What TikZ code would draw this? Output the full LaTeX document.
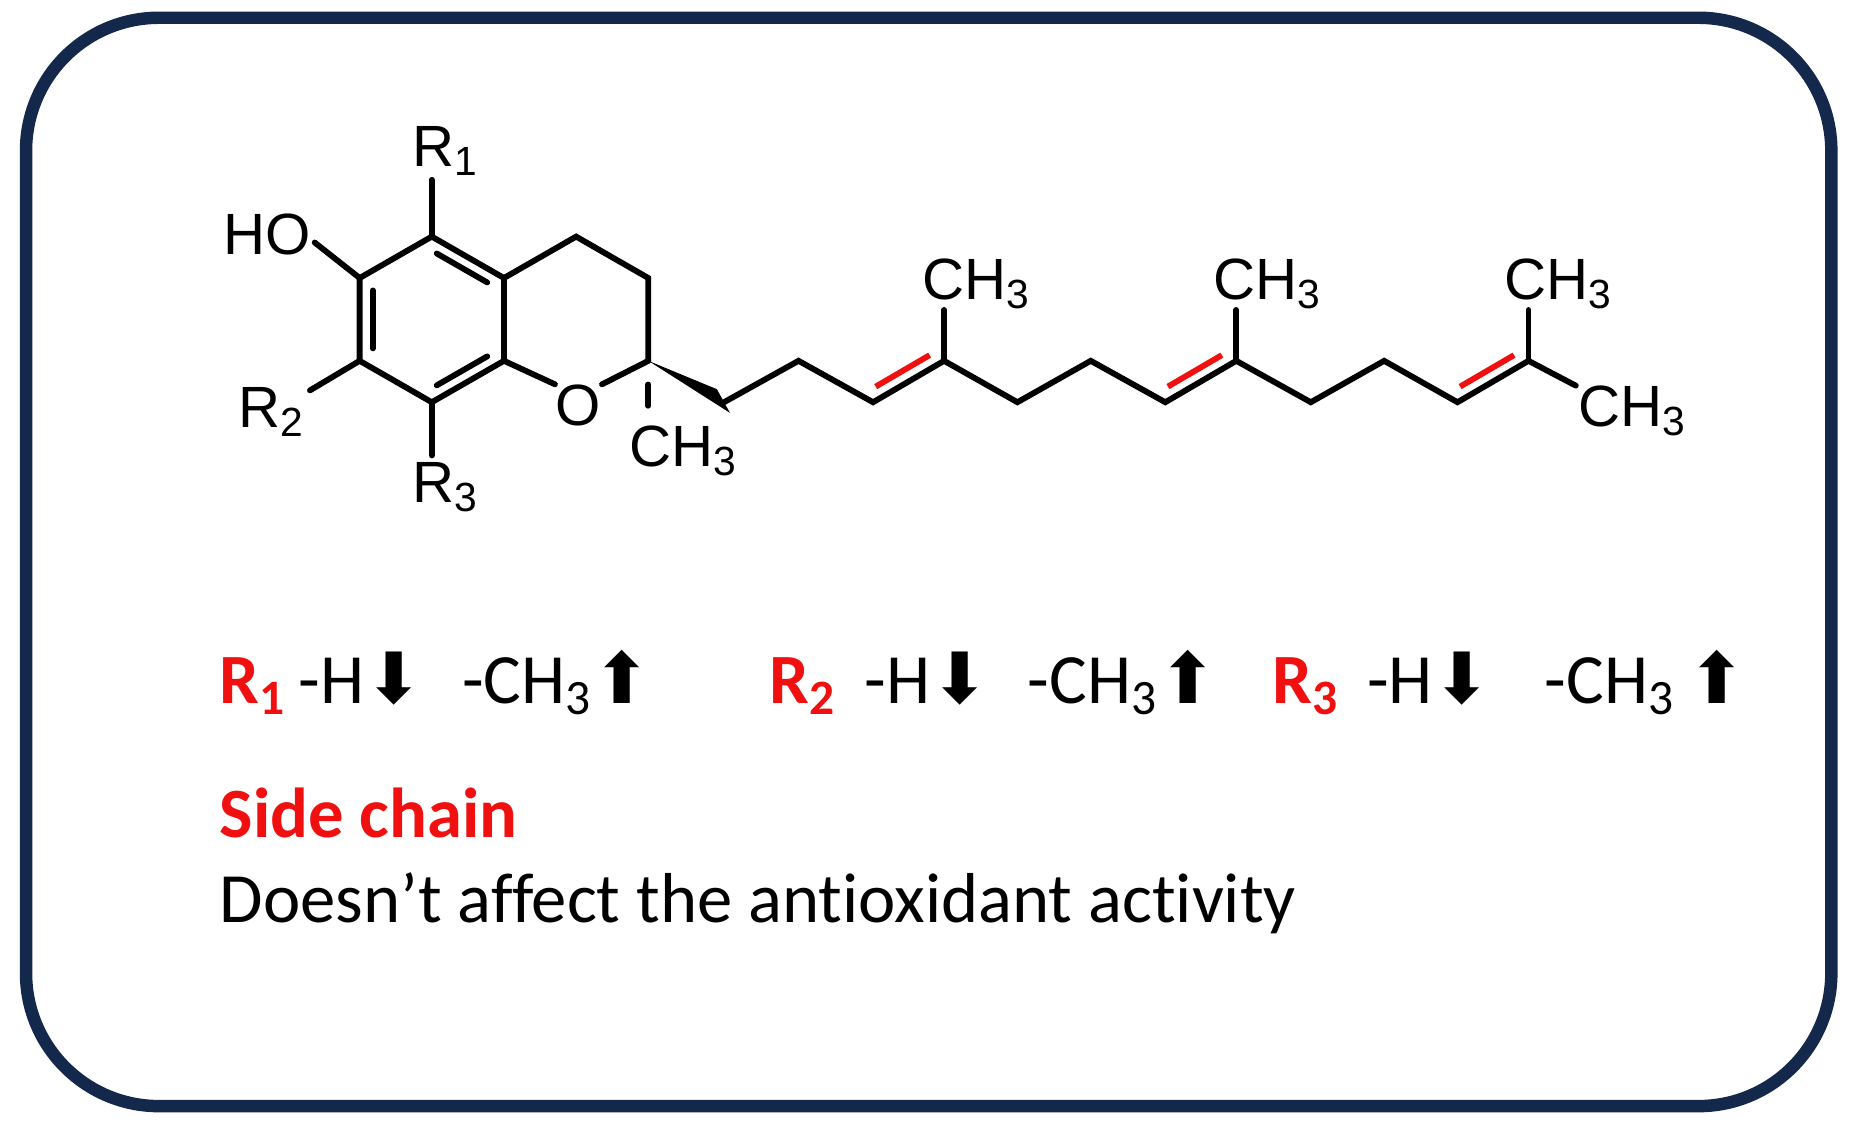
\documentclass[tikz,border=0pt]{standalone}
\usepackage{fontspec}
\usetikzlibrary{calc}
\setmainfont{Liberation Sans}
\newfontfamily\calfont[Ligatures=NoCommon]{Carlito}
\newfontfamily\djfont{DejaVu Sans}
\definecolor{navy}{HTML}{14284B}
\definecolor{rred}{HTML}{F01010}
\begin{document}
\begin{tikzpicture}[x=0.1mm,y=-0.1mm,
  bond/.style={line width=1.4pt,line cap=round},
  dbl/.style={line width=1.4pt,rred},
  lab/.style={font=\fontsize{14}{14}\selectfont,inner sep=0pt},
  txt/.style={font=\calfont\fontsize{17}{17}\selectfont,inner sep=0pt,anchor=base west},
  rtxt/.style={txt,text=rred,font=\calfont\bfseries\fontsize{17}{17}\selectfont}]
\useasboundingbox (0,0) rectangle (1568,952);
\draw[navy,line width=3pt,rounded corners=32pt] (22,15) rectangle (1548,935);
% ring coordinates
\coordinate (c5) at (365,200); \coordinate (c6) at (304,235); \coordinate (c7) at (304,305);
\coordinate (c8) at (365,340); \coordinate (c8a) at (426,305); \coordinate (c4a) at (426,235);
\coordinate (c4) at (487,200); \coordinate (c3) at (548,235); \coordinate (c2) at (548,305);
\node[lab] (o) at (489,343) {O};
\draw[bond] (c5)--(c6)--(c7)--(c8)--(c8a)--(c4a)--cycle;
\draw[bond] (c4a)--(c4)--(c3)--(c2);
\draw[bond] (c8a)--(o.north west); \draw[bond] (o.north east)--(c2);
\draw[bond] ($(c5)!0.15!(c4a)+(-5,9)$)--($(c5)!0.85!(c4a)+(-5,9)$);
\draw[bond] ($(c6)!0.15!(c7)+(11,0)$)--($(c6)!0.85!(c7)+(11,0)$);
\draw[bond] ($(c8)!0.15!(c8a)+(-5,-9)$)--($(c8)!0.85!(c8a)+(-5,-9)$);
% substituents
\coordinate (r1e) at (365,152); \node[lab] (r1) at (377,128) {R\textsubscript{1}};
\draw[bond] (c5)--(r1e);
\coordinate (hoe) at (266,205); \node[lab] (ho) at (226,198) {HO};
\draw[bond] (c6)--(hoe);
\coordinate (r2e) at (262,330); \node[lab] (r2) at (230,348) {R\textsubscript{2}};
\draw[bond] (c7)--(r2e);
\coordinate (r3e) at (365,385); \node[lab] (r3) at (377,412) {R\textsubscript{3}};
\draw[bond] (c8)--(r3e);
\coordinate (ms) at (548,325); \coordinate (me) at (548,343);
\node[lab] (me2) at (578,381) {CH\textsubscript{3}};
\draw[bond] (ms)--(me);
% chain
\coordinate (p1) at (612,340); \coordinate (p2) at (675,305); \coordinate (p3) at (738,340);
\coordinate (p4) at (798,305); \coordinate (p5) at (860,340); \coordinate (p6) at (922,305);
\coordinate (p7) at (985,340); \coordinate (p8) at (1045,305); \coordinate (p9) at (1108,340);
\coordinate (p10) at (1170,305); \coordinate (p11) at (1232,340); \coordinate (p12) at (1292,305);
\fill (c2) -- ($(p1)+(-6,-11)$) -- ($(p1)+(5,9)$) -- cycle;
\draw[bond] (p1)--(p2)--(p3)--(p4)--(p5)--(p6)--(p7)--(p8)--(p9)--(p10)--(p11)--(p12)--(1332,326);
\draw[dbl] ($(p3)!0.12!(p4)+(-5,-9)$)--($(p3)!0.88!(p4)+(-5,-9)$);
\draw[dbl] ($(p7)!0.12!(p8)+(-5,-9)$)--($(p7)!0.88!(p8)+(-5,-9)$);
\draw[dbl] ($(p11)!0.12!(p12)+(-5,-9)$)--($(p11)!0.88!(p12)+(-5,-9)$);
\node[lab] (m1) at (826,240) {CH\textsubscript{3}}; \draw[bond] (p4)--(798,262);
\node[lab] (m2) at (1072,240) {CH\textsubscript{3}}; \draw[bond] (p8)--(1045,262);
\node[lab] (m3) at (1318,240) {CH\textsubscript{3}}; \draw[bond] (p12)--(1292,262);
\node[lab] (m4) at (1380,347) {CH\textsubscript{3}};
% bottom text
\def\dn{{\djfont\symbol{"2B07}}}\def\up{{\djfont\symbol{"2B06}}}
\node[rtxt] (a1) at (185,595) {R\textsubscript{1}};
\node[txt] (b1) at (252,595) {-H\dn};
\node[txt] (c1) at (390,595) {-CH\textsubscript{3}\up};
\node[rtxt] (a2) at (650,595) {R\textsubscript{2}};
\node[txt] (b2) at (730,595) {-H\dn};
\node[txt] (cc2) at (868,595) {-CH\textsubscript{3}\up};
\node[rtxt] (a3) at (1075,595) {R\textsubscript{3}};
\node[txt] (b3) at (1155,595) {-H\dn};
\node[txt] (cc3) at (1305,595) {-CH\textsubscript{3}\,\up};
\node[rtxt] (sc) at (185,708) {Side chain};
\node[txt] (d) at (185,780) {Doesn’t affect the antioxidant activity};
\end{tikzpicture}
\end{document}
